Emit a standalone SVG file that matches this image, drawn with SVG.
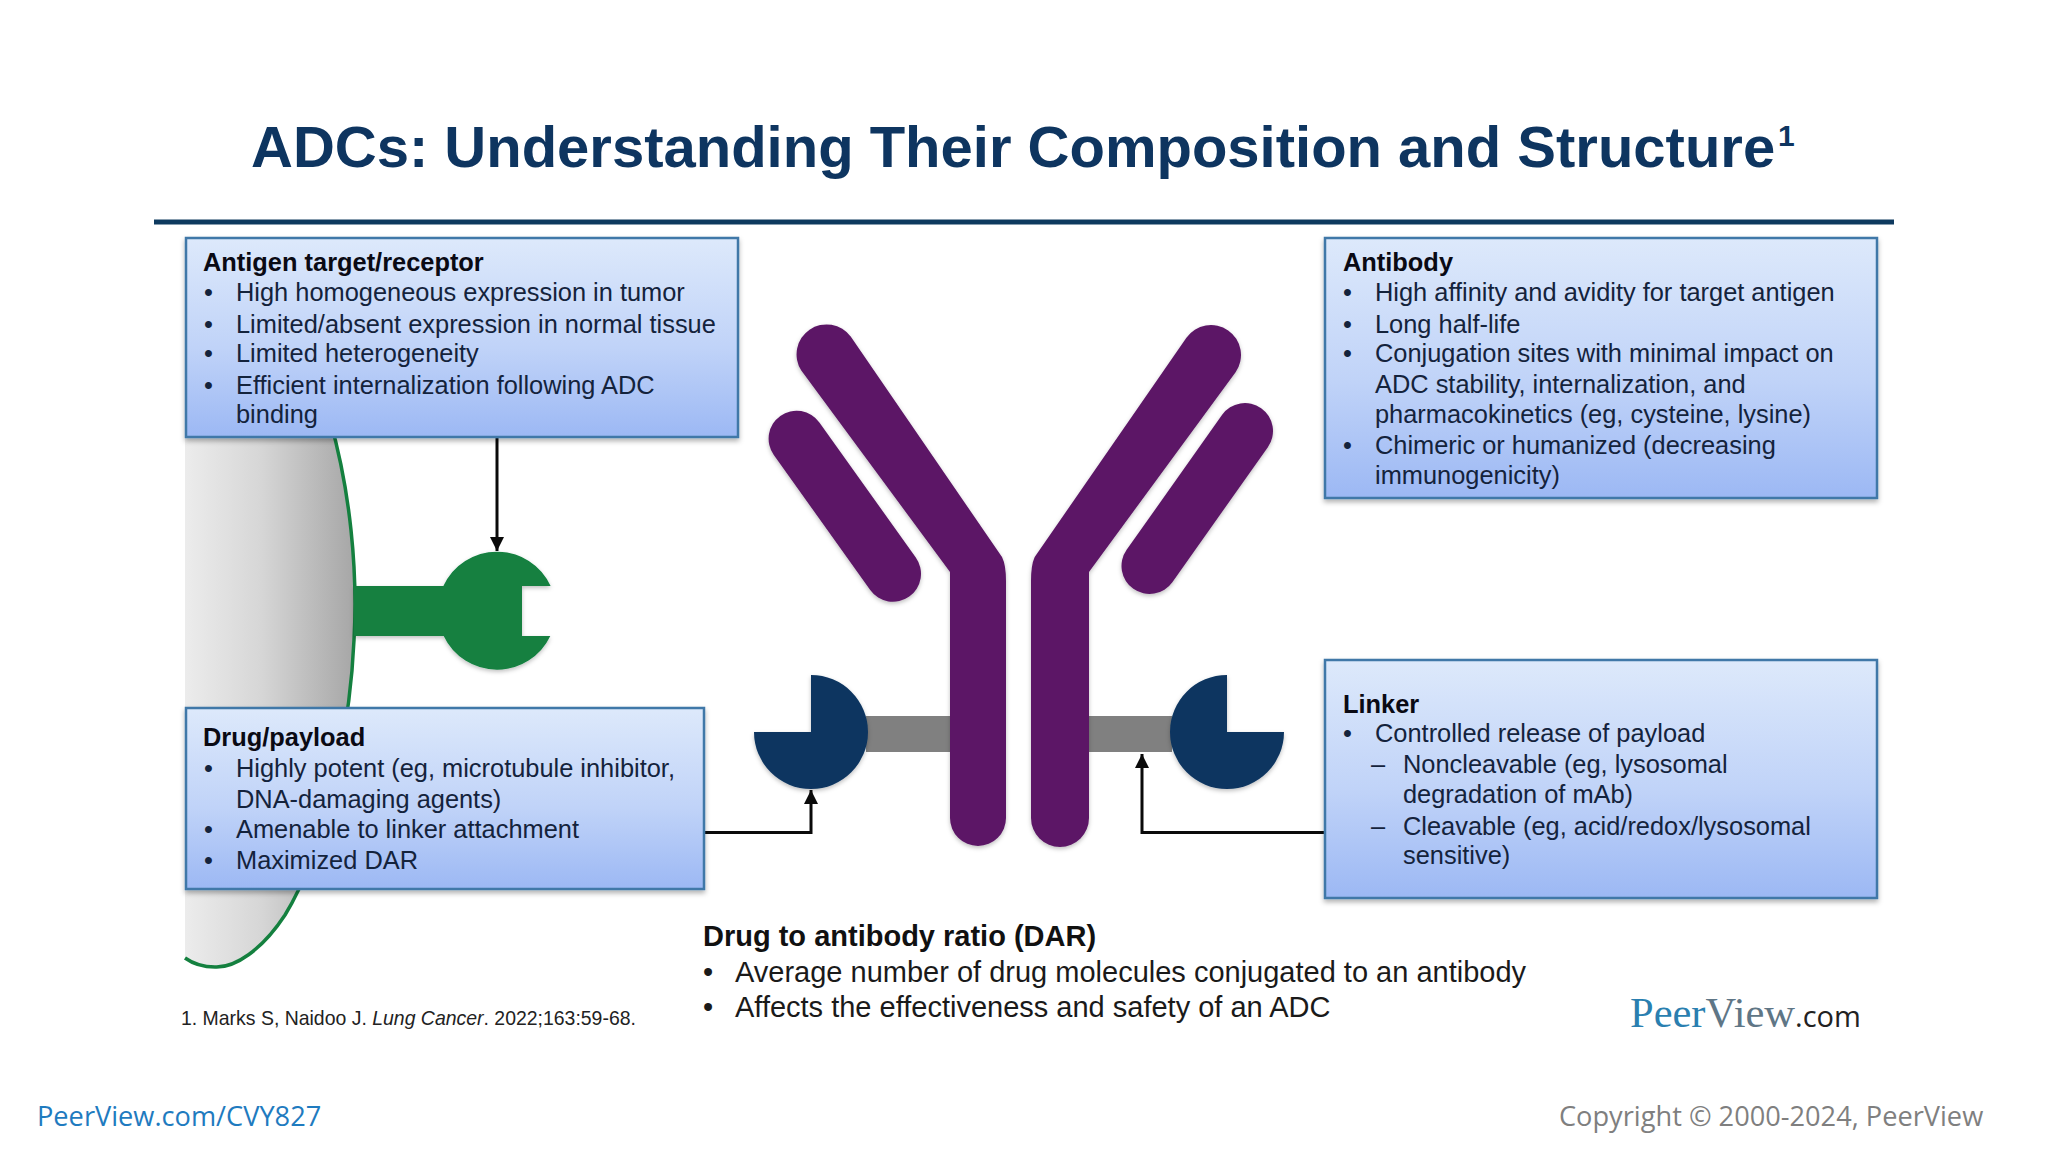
<svg xmlns="http://www.w3.org/2000/svg" width="2048" height="1152" viewBox="0 0 2048 1152">
<style>
text{font-family:"Liberation Sans",Arial,sans-serif}
.t{font-size:25.4px;fill:#14233c}
.h{font-size:25.4px;font-weight:700;fill:#0a0a14}
.d{font-size:29px;fill:#1a1a1a}
.box{fill:url(#boxGrad);stroke:#3f78a8;stroke-width:2.5;filter:url(#shadow)}
.ab{fill:#5c1766}
.arm{fill:none;stroke:#5c1766;stroke-width:56;stroke-linecap:round}
.pay{fill:#0b3560;filter:url(#soft)}
.bar{fill:#808080}
.conn{fill:none;stroke:#0a0a0a;stroke-width:3;marker-end:url(#head)}
</style>
<defs>
<linearGradient id="boxGrad" x1="0" y1="0" x2="0" y2="1"><stop offset="0" stop-color="#dde9fb"/><stop offset="0.55" stop-color="#c0d3f8"/><stop offset="1" stop-color="#9cb8f4"/></linearGradient>
<linearGradient id="cellGrad" x1="0" y1="0" x2="1" y2="0"><stop offset="0" stop-color="#ececec"/><stop offset="0.45" stop-color="#d6d6d6"/><stop offset="1" stop-color="#a6a6a6"/></linearGradient>
<filter id="shadow" x="-3%" y="-3%" width="106%" height="108%"><feDropShadow dx="0" dy="3" stdDeviation="2.5" flood-color="#000" flood-opacity="0.3"/></filter>
<filter id="soft" x="-10%" y="-10%" width="120%" height="120%"><feDropShadow dx="0" dy="2" stdDeviation="2" flood-color="#000" flood-opacity="0.25"/></filter>
<marker id="head" markerUnits="userSpaceOnUse" markerWidth="15" markerHeight="14" refX="14" refY="7" orient="auto"><path d="M0,0L14,7L0,14Z" fill="#0a0a0a"/></marker>
</defs>
<rect width="2048" height="1152" fill="#fff"/>
<g id="title">
<text x="251" y="167" font-size="58" font-weight="700" fill="#0e3560">ADCs: Understanding Their Composition and Structure</text>
<text x="1778" y="146" font-size="30" font-weight="700" fill="#0e3560">1</text>
<rect x="154" y="219.500" width="1740" height="5" fill="#0e3a5f"/>
</g>
<g id="cell">
<path d="M330,420C350,490 358,570 354,640C350,730 325,850 285,915C262,950 235,968 215,967C203,967 192,963 185,958V420Z" fill="url(#cellGrad)"/>
<path d="M330,420C350,490 358,570 354,640C350,730 325,850 285,915C262,950 235,968 215,967C203,967 192,963 185,958" fill="none" stroke="#14803f" stroke-width="3.500"/>
</g>
<g id="receptor"><path d="M354,586H443.400A59,59 0 0 1 550.600,586H522V636H550.300A59,59 0 0 1 443.700,636H354Z" fill="#12803f" filter="url(#soft)"/></g>
<g id="linker-left"><rect class="bar" x="866" y="716" width="86" height="36"/></g>
<g id="linker-right"><rect class="bar" x="1087" y="716" width="85" height="36"/></g>
<g id="payload-left"><path class="pay" d="M811,732V675A57,57 0 1 1 754,732Z"/></g>
<g id="payload-right"><path class="pay" d="M1227,732H1284A57,57 0 1 1 1227,675Z"/></g>
<g id="antibody" filter="url(#soft)">
<line class="arm" x1="796.600" y1="438.700" x2="893" y2="573.800"/>
<line class="arm" x1="1245" y1="431" x2="1149.500" y2="566"/>
<path class="ab" d="M850.700,336.600L1002,557Q1006,565 1006,581V818A28,28 0 0 1 950,818V572L801.300,370.600A30,30 0 0 1 850.700,336.600Z"/>
<path class="ab" d="M1186.400,337.800L1034.700,557Q1031,565 1031,581V818A29,29 0 0 0 1089,818V572L1235.600,372.200A30,30 0 0 0 1186.400,337.800Z"/>
</g>
<g id="connectors">
<path class="conn" d="M497,437V551"/>
<path class="conn" d="M704,832.500H811V790"/>
<path class="conn" d="M1325,832.500H1142V754"/>
</g>
<g id="antigen-box">
<rect class="box" x="186" y="238" width="552" height="199"/>
<text class="h" x="203" y="271">Antigen target/receptor</text>
<text class="t" x="204" y="301">•</text><text class="t" x="236" y="301">High homogeneous expression in tumor</text>
<text class="t" x="204" y="333">•</text><text class="t" x="236" y="333">Limited/absent expression in normal tissue</text>
<text class="t" x="204" y="362">•</text><text class="t" x="236" y="362">Limited heterogeneity</text>
<text class="t" x="204" y="394">•</text><text class="t" x="236" y="394">Efficient internalization following ADC</text>
<text class="t" x="236" y="423">binding</text>
</g>
<g id="drug-box">
<rect class="box" x="186" y="708" width="518" height="181"/>
<text class="h" x="203" y="746">Drug/payload</text>
<text class="t" x="204" y="777">•</text><text class="t" x="236" y="777">Highly potent (eg, microtubule inhibitor,</text>
<text class="t" x="236" y="808">DNA-damaging agents)</text>
<text class="t" x="204" y="838">•</text><text class="t" x="236" y="838">Amenable to linker attachment</text>
<text class="t" x="204" y="869">•</text><text class="t" x="236" y="869">Maximized DAR</text>
</g>
<g id="antibody-box">
<rect class="box" x="1325" y="238" width="552" height="260"/>
<text class="h" x="1343" y="271">Antibody</text>
<text class="t" x="1343" y="301">•</text><text class="t" x="1375" y="301">High affinity and avidity for target antigen</text>
<text class="t" x="1343" y="333">•</text><text class="t" x="1375" y="333">Long half-life</text>
<text class="t" x="1343" y="362">•</text><text class="t" x="1375" y="362">Conjugation sites with minimal impact on</text>
<text class="t" x="1375" y="393">ADC stability, internalization, and</text>
<text class="t" x="1375" y="423">pharmacokinetics (eg, cysteine, lysine)</text>
<text class="t" x="1343" y="454">•</text><text class="t" x="1375" y="454">Chimeric or humanized (decreasing</text>
<text class="t" x="1375" y="484">immunogenicity)</text>
</g>
<g id="linker-box">
<rect class="box" x="1325" y="660" width="552" height="238"/>
<text class="h" x="1343" y="713">Linker</text>
<text class="t" x="1343" y="742">•</text><text class="t" x="1375" y="742">Controlled release of payload</text>
<text class="t" x="1371" y="773">–</text><text class="t" x="1403" y="773">Noncleavable (eg, lysosomal</text>
<text class="t" x="1403" y="803">degradation of mAb)</text>
<text class="t" x="1371" y="835">–</text><text class="t" x="1403" y="835">Cleavable (eg, acid/redox/lysosomal</text>
<text class="t" x="1403" y="864">sensitive)</text>
</g>
<g id="dar">
<text x="703" y="946" font-size="29" font-weight="700" fill="#111">Drug to antibody ratio (DAR)</text>
<text class="d" x="703" y="982">•</text><text class="d" x="735" y="982">Average number of drug molecules conjugated to an antibody</text>
<text class="d" x="703" y="1017">•</text><text class="d" x="735" y="1017">Affects the effectiveness and safety of an ADC</text>
</g>
<g id="citation"><text x="181" y="1025" font-size="19.450" fill="#222">1. Marks S, Naidoo J. <tspan font-style="italic">Lung Cancer</tspan>. 2022;163:59-68.</text></g>
<g id="logo"><text x="1630" y="1027" font-size="42.500" style="font-family:'Liberation Serif',serif"><tspan fill="#2a7fb0">Peer</tspan><tspan fill="#5f7686">View</tspan><tspan fill="#222" font-size="29" style="font-family:'Open Sans',sans-serif">.com</tspan></text></g>
<g id="footer">
<text x="37" y="1126" font-size="27.200" fill="#1f7bbf" style="font-family:'Open Sans',sans-serif">PeerView.com/CVY827</text>
<text x="1559" y="1126" font-size="27.200" fill="#7f7f7f" style="font-family:'Open Sans',sans-serif">Copyright © 2000-2024, PeerView</text>
</g>
</svg>
